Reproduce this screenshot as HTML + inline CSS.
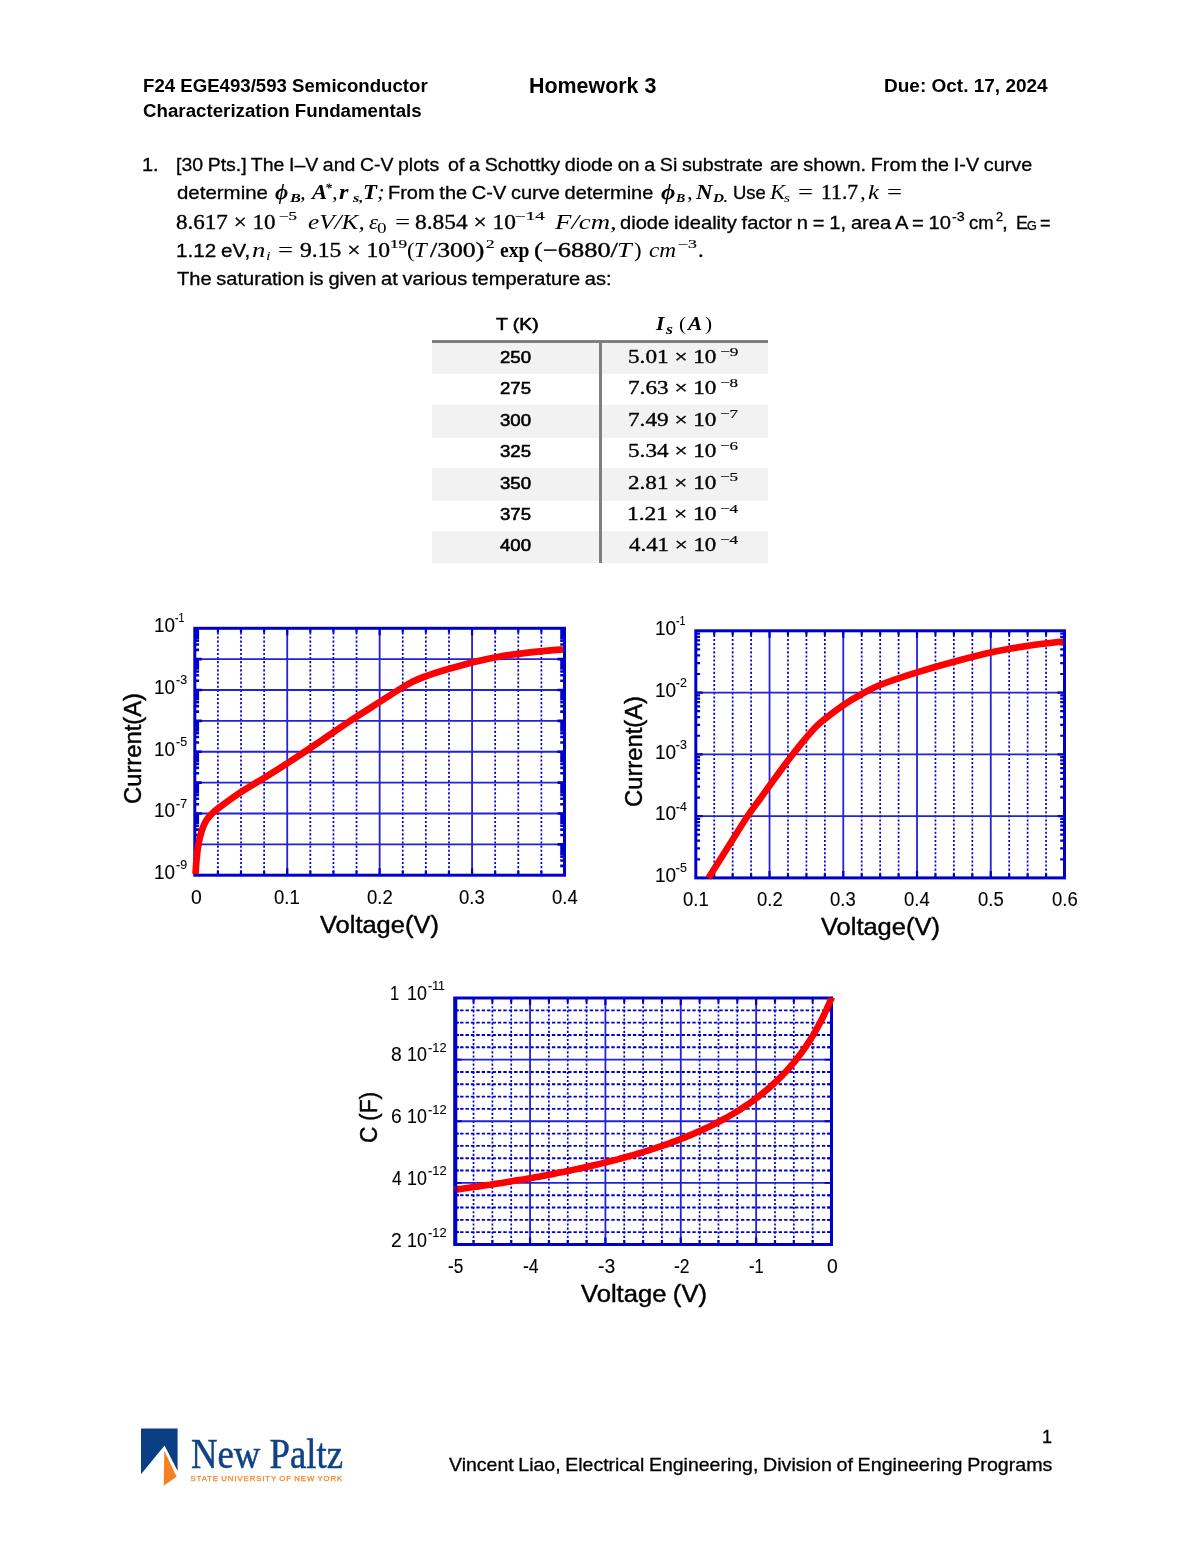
<!DOCTYPE html>
<html lang="en">
<head>
<meta charset="utf-8">
<title>Homework 3</title>
<style>
html,body{margin:0;padding:0;background:#fff;}
body{width:1200px;height:1553px;position:relative;overflow:hidden;font-family:"Liberation Sans",sans-serif;color:#000;}
.page{position:absolute;left:0;top:0;width:1200px;height:1553px;background:#fff;overflow:hidden;}
.t{position:absolute;white-space:pre;line-height:1;transform-origin:0 0;color:#000;}
.S{font-family:"Liberation Sans",sans-serif;font-weight:400;-webkit-text-stroke:0.3px #000;word-spacing:-0.7px;}
.SS{font-family:"Liberation Sans",sans-serif;font-weight:400;-webkit-text-stroke:0.6px #000;}
.SB{font-family:"Liberation Sans",sans-serif;font-weight:700;}
.M{font-family:"Liberation Serif",serif;font-weight:400;}
.MS{font-family:"Liberation Serif",serif;font-weight:400;-webkit-text-stroke:0.35px #000;}
.MB{font-family:"Liberation Serif",serif;font-weight:700;}
.MI{font-family:"Liberation Serif",serif;font-weight:400;font-style:italic;}
.MBI{font-family:"Liberation Serif",serif;font-weight:700;font-style:italic;}
.ls{letter-spacing:0.9px;-webkit-text-stroke:0.25px #f58220;}
.st2{-webkit-text-stroke:0.2px #000;}
.cl{-webkit-text-stroke:0.1px #000;}
.ct{-webkit-text-stroke:0.45px #000;}
.np{-webkit-text-stroke:0.5px #0f4287;}
.box{position:absolute;}
svg{position:absolute;left:0;top:0;}
svg text{font-family:"Liberation Sans",sans-serif;fill:#000;}
</style>
</head>
<body>
<div class="page">
<!-- table backgrounds and rules -->
<div class="box" style="left:432px;top:343px;width:336px;height:30.7px;background:#f2f2f2"></div>
<div class="box" style="left:432px;top:405px;width:336px;height:32.5px;background:#f2f2f2"></div>
<div class="box" style="left:432px;top:467.6px;width:336px;height:33.1px;background:#f2f2f2"></div>
<div class="box" style="left:432px;top:530.8px;width:336px;height:32.2px;background:#f2f2f2"></div>
<div class="box" style="left:432px;top:340.4px;width:336px;height:2.7px;background:#7f7f7f"></div>
<div class="box" style="left:599px;top:342px;width:2.5px;height:221px;background:#7f7f7f"></div>
<svg width="1200" height="1553" viewBox="0 0 1200 1553">
<g fill="none" stroke="#0000cd">
<path d="M217.91,628.3V875.2M241.01,628.3V875.2M264.12,628.3V875.2M310.33,628.3V875.2M333.44,628.3V875.2M356.54,628.3V875.2M402.76,628.3V875.2M425.86,628.3V875.2M448.97,628.3V875.2M495.18,628.3V875.2M518.29,628.3V875.2M541.39,628.3V875.2" stroke-width="1.7" stroke-dasharray="2.1 2.0"/>
<path d="M287.23,628.3V875.2M379.65,628.3V875.2M472.07,628.3V875.2M194.8,659.16H564.5M194.8,690.02H564.5M194.8,720.89H564.5M194.8,751.75H564.5M194.8,782.61H564.5M194.8,813.48H564.5M194.8,844.34H564.5" stroke-width="1.8" stroke="#2222d6"/>
<path d="M217.91,628.3v4.5M217.91,875.2v-4.5M241.01,628.3v4.5M241.01,875.2v-4.5M264.12,628.3v4.5M264.12,875.2v-4.5M310.33,628.3v4.5M310.33,875.2v-4.5M333.44,628.3v4.5M333.44,875.2v-4.5M356.54,628.3v4.5M356.54,875.2v-4.5M402.76,628.3v4.5M402.76,875.2v-4.5M425.86,628.3v4.5M425.86,875.2v-4.5M448.97,628.3v4.5M448.97,875.2v-4.5M495.18,628.3v4.5M495.18,875.2v-4.5M518.29,628.3v4.5M518.29,875.2v-4.5M541.39,628.3v4.5M541.39,875.2v-4.5M287.23,628.3v7M287.23,875.2v-7M379.65,628.3v7M379.65,875.2v-7M472.07,628.3v7M472.07,875.2v-7" stroke-width="2.2"/>
<path d="M194.8,649.87h4.3M564.5,649.87h-4.3M194.8,644.44h4.3M564.5,644.44h-4.3M194.8,640.58h4.3M564.5,640.58h-4.3M194.8,637.59h4.3M564.5,637.59h-4.3M194.8,635.15h4.3M564.5,635.15h-4.3M194.8,633.08h4.3M564.5,633.08h-4.3M194.8,631.29h4.3M564.5,631.29h-4.3M194.8,629.71h4.3M564.5,629.71h-4.3M194.8,680.73h4.3M564.5,680.73h-4.3M194.8,675.30h4.3M564.5,675.30h-4.3M194.8,671.44h4.3M564.5,671.44h-4.3M194.8,668.45h4.3M564.5,668.45h-4.3M194.8,666.01h4.3M564.5,666.01h-4.3M194.8,663.94h4.3M564.5,663.94h-4.3M194.8,662.15h4.3M564.5,662.15h-4.3M194.8,660.57h4.3M564.5,660.57h-4.3M194.8,711.60h4.3M564.5,711.60h-4.3M194.8,706.16h4.3M564.5,706.16h-4.3M194.8,702.31h4.3M564.5,702.31h-4.3M194.8,699.32h4.3M564.5,699.32h-4.3M194.8,696.87h4.3M564.5,696.87h-4.3M194.8,694.81h4.3M564.5,694.81h-4.3M194.8,693.02h4.3M564.5,693.02h-4.3M194.8,691.44h4.3M564.5,691.44h-4.3M194.8,742.46h4.3M564.5,742.46h-4.3M194.8,737.02h4.3M564.5,737.02h-4.3M194.8,733.17h4.3M564.5,733.17h-4.3M194.8,730.18h4.3M564.5,730.18h-4.3M194.8,727.73h4.3M564.5,727.73h-4.3M194.8,725.67h4.3M564.5,725.67h-4.3M194.8,723.88h4.3M564.5,723.88h-4.3M194.8,722.30h4.3M564.5,722.30h-4.3M194.8,773.32h4.3M564.5,773.32h-4.3M194.8,767.89h4.3M564.5,767.89h-4.3M194.8,764.03h4.3M564.5,764.03h-4.3M194.8,761.04h4.3M564.5,761.04h-4.3M194.8,758.60h4.3M564.5,758.60h-4.3M194.8,756.53h4.3M564.5,756.53h-4.3M194.8,754.74h4.3M564.5,754.74h-4.3M194.8,753.16h4.3M564.5,753.16h-4.3M194.8,804.18h4.3M564.5,804.18h-4.3M194.8,798.75h4.3M564.5,798.75h-4.3M194.8,794.89h4.3M564.5,794.89h-4.3M194.8,791.90h4.3M564.5,791.90h-4.3M194.8,789.46h4.3M564.5,789.46h-4.3M194.8,787.39h4.3M564.5,787.39h-4.3M194.8,785.60h4.3M564.5,785.60h-4.3M194.8,784.02h4.3M564.5,784.02h-4.3M194.8,835.05h4.3M564.5,835.05h-4.3M194.8,829.61h4.3M564.5,829.61h-4.3M194.8,825.76h4.3M564.5,825.76h-4.3M194.8,822.77h4.3M564.5,822.77h-4.3M194.8,820.32h4.3M564.5,820.32h-4.3M194.8,818.26h4.3M564.5,818.26h-4.3M194.8,816.47h4.3M564.5,816.47h-4.3M194.8,814.89h4.3M564.5,814.89h-4.3M194.8,865.91h4.3M564.5,865.91h-4.3M194.8,860.47h4.3M564.5,860.47h-4.3M194.8,856.62h4.3M564.5,856.62h-4.3M194.8,853.63h4.3M564.5,853.63h-4.3M194.8,851.18h4.3M564.5,851.18h-4.3M194.8,849.12h4.3M564.5,849.12h-4.3M194.8,847.33h4.3M564.5,847.33h-4.3M194.8,845.75h4.3M564.5,845.75h-4.3M194.8,659.16h7M564.5,659.16h-7M194.8,690.02h7M564.5,690.02h-7M194.8,720.89h7M564.5,720.89h-7M194.8,751.75h7M564.5,751.75h-7M194.8,782.61h7M564.5,782.61h-7M194.8,813.48h7M564.5,813.48h-7M194.8,844.34h7M564.5,844.34h-7" stroke-width="2.6"/>
<rect x="194.8" y="628.3" width="369.70" height="246.90" stroke-width="3.0"/>
</g>
<path d="M195.5,874.0C195.7,871.7 196.0,865.0 196.5,860.0C197.0,855.0 197.6,849.0 198.5,844.0C199.4,839.0 200.7,834.0 202.0,830.0C203.3,826.0 204.8,822.7 206.5,820.0C208.2,817.3 210.1,815.5 212.0,813.6C213.9,811.7 213.2,812.1 218.0,808.5C222.8,804.9 233.3,797.1 241.0,792.0C248.7,786.9 256.3,782.8 264.0,778.0C271.7,773.2 277.7,769.6 287.0,763.5C296.3,757.4 309.5,748.6 320.0,741.5C330.5,734.4 340.1,727.6 350.0,721.0C359.9,714.4 371.3,707.3 379.6,702.0C387.9,696.7 394.6,692.3 400.0,689.0C405.4,685.7 407.8,684.1 412.0,682.0C416.2,679.9 420.3,678.2 425.0,676.5C429.7,674.8 432.2,673.8 440.0,671.5C447.8,669.2 462.0,665.0 472.0,662.5C482.0,660.0 490.3,658.2 500.0,656.5C509.7,654.8 519.5,653.5 530.0,652.3C540.5,651.1 557.5,649.8 563.0,649.3" fill="none" stroke="#ff0000" stroke-width="6.7" stroke-linejoin="round" stroke-linecap="butt"/>
<g fill="none" stroke="#0000cd">
<path d="M714.23,630.8V877.9M732.67,630.8V877.9M751.11,630.8V877.9M787.97,630.8V877.9M806.41,630.8V877.9M824.85,630.8V877.9M861.71,630.8V877.9M880.15,630.8V877.9M898.59,630.8V877.9M935.45,630.8V877.9M953.89,630.8V877.9M972.33,630.8V877.9M1009.19,630.8V877.9M1027.63,630.8V877.9M1046.07,630.8V877.9" stroke-width="1.7" stroke-dasharray="2.1 2.0"/>
<path d="M769.54,630.8V877.9M843.28,630.8V877.9M917.02,630.8V877.9M990.76,630.8V877.9M695.8,692.57H1064.5M695.8,754.35H1064.5M695.8,816.12H1064.5" stroke-width="1.8" stroke="#2222d6"/>
<path d="M714.23,630.8v4.5M714.23,877.9v-4.5M732.67,630.8v4.5M732.67,877.9v-4.5M751.11,630.8v4.5M751.11,877.9v-4.5M787.97,630.8v4.5M787.97,877.9v-4.5M806.41,630.8v4.5M806.41,877.9v-4.5M824.85,630.8v4.5M824.85,877.9v-4.5M861.71,630.8v4.5M861.71,877.9v-4.5M880.15,630.8v4.5M880.15,877.9v-4.5M898.59,630.8v4.5M898.59,877.9v-4.5M935.45,630.8v4.5M935.45,877.9v-4.5M953.89,630.8v4.5M953.89,877.9v-4.5M972.33,630.8v4.5M972.33,877.9v-4.5M1009.19,630.8v4.5M1009.19,877.9v-4.5M1027.63,630.8v4.5M1027.63,877.9v-4.5M1046.07,630.8v4.5M1046.07,877.9v-4.5M769.54,630.8v7M769.54,877.9v-7M843.28,630.8v7M843.28,877.9v-7M917.02,630.8v7M917.02,877.9v-7M990.76,630.8v7M990.76,877.9v-7" stroke-width="2.2"/>
<path d="M695.8,673.98h4.3M1064.5,673.98h-4.3M695.8,663.10h4.3M1064.5,663.10h-4.3M695.8,655.38h4.3M1064.5,655.38h-4.3M695.8,649.40h4.3M1064.5,649.40h-4.3M695.8,644.50h4.3M1064.5,644.50h-4.3M695.8,640.37h4.3M1064.5,640.37h-4.3M695.8,636.79h4.3M1064.5,636.79h-4.3M695.8,633.63h4.3M1064.5,633.63h-4.3M695.8,735.75h4.3M1064.5,735.75h-4.3M695.8,724.88h4.3M1064.5,724.88h-4.3M695.8,717.16h4.3M1064.5,717.16h-4.3M695.8,711.17h4.3M1064.5,711.17h-4.3M695.8,706.28h4.3M1064.5,706.28h-4.3M695.8,702.14h4.3M1064.5,702.14h-4.3M695.8,698.56h4.3M1064.5,698.56h-4.3M695.8,695.40h4.3M1064.5,695.40h-4.3M695.8,797.53h4.3M1064.5,797.53h-4.3M695.8,786.65h4.3M1064.5,786.65h-4.3M695.8,778.93h4.3M1064.5,778.93h-4.3M695.8,772.95h4.3M1064.5,772.95h-4.3M695.8,768.05h4.3M1064.5,768.05h-4.3M695.8,763.92h4.3M1064.5,763.92h-4.3M695.8,760.34h4.3M1064.5,760.34h-4.3M695.8,757.18h4.3M1064.5,757.18h-4.3M695.8,859.30h4.3M1064.5,859.30h-4.3M695.8,848.43h4.3M1064.5,848.43h-4.3M695.8,840.71h4.3M1064.5,840.71h-4.3M695.8,834.72h4.3M1064.5,834.72h-4.3M695.8,829.83h4.3M1064.5,829.83h-4.3M695.8,825.69h4.3M1064.5,825.69h-4.3M695.8,822.11h4.3M1064.5,822.11h-4.3M695.8,818.95h4.3M1064.5,818.95h-4.3M695.8,692.57h7M1064.5,692.57h-7M695.8,754.35h7M1064.5,754.35h-7M695.8,816.12h7M1064.5,816.12h-7" stroke-width="2.2"/>
<rect x="695.8" y="630.8" width="368.70" height="247.10" stroke-width="3.0"/>
</g>
<path d="M708.5,878.0C711.8,872.8 721.6,857.2 728.0,847.0C734.4,836.8 741.7,825.0 747.0,817.0C752.3,809.0 756.2,804.3 760.0,799.0C763.8,793.7 766.5,789.8 770.0,785.0C773.5,780.2 777.2,775.2 781.0,770.0C784.8,764.8 788.8,759.3 793.0,754.0C797.2,748.7 801.5,743.2 806.0,738.0C810.5,732.8 813.7,728.5 820.0,723.0C826.3,717.5 836.9,709.7 843.6,705.0C850.3,700.3 853.9,698.3 860.0,695.0C866.1,691.7 870.5,688.8 880.0,685.0C889.5,681.2 904.8,676.2 917.0,672.4C929.2,668.6 940.7,665.3 953.0,662.0C965.3,658.7 977.8,655.1 990.6,652.4C1003.4,649.6 1017.9,647.3 1030.0,645.5C1042.1,643.7 1057.5,642.1 1063.0,641.4" fill="none" stroke="#ff0000" stroke-width="6.6" stroke-linejoin="round" stroke-linecap="butt"/>
<g fill="none" stroke="#0000cd">
<path d="M473.54,998.0V1244.5M492.38,998.0V1244.5M511.22,998.0V1244.5M548.90,998.0V1244.5M567.74,998.0V1244.5M586.58,998.0V1244.5M624.26,998.0V1244.5M643.10,998.0V1244.5M661.94,998.0V1244.5M699.62,998.0V1244.5M718.46,998.0V1244.5M737.30,998.0V1244.5M774.98,998.0V1244.5M793.82,998.0V1244.5M812.66,998.0V1244.5" stroke-width="1.7" stroke-dasharray="2.1 2.0"/>
<path d="M454.7,1010.33H831.5M454.7,1022.65H831.5M454.7,1034.97H831.5M454.7,1047.30H831.5M454.7,1071.95H831.5M454.7,1084.28H831.5M454.7,1096.60H831.5M454.7,1108.92H831.5M454.7,1133.58H831.5M454.7,1145.90H831.5M454.7,1158.22H831.5M454.7,1170.55H831.5M454.7,1195.20H831.5M454.7,1207.53H831.5M454.7,1219.85H831.5M454.7,1232.17H831.5" stroke-width="1.9" stroke-dasharray="3.4 2.0"/>
<path d="M530.06,998.0V1244.5M605.42,998.0V1244.5M680.78,998.0V1244.5M756.14,998.0V1244.5M454.7,1059.62H831.5M454.7,1121.25H831.5M454.7,1182.88H831.5" stroke-width="1.8" stroke="#2222d6"/>
<path d="M473.54,998.0v4.5M473.54,1244.5v-4.5M492.38,998.0v4.5M492.38,1244.5v-4.5M511.22,998.0v4.5M511.22,1244.5v-4.5M548.90,998.0v4.5M548.90,1244.5v-4.5M567.74,998.0v4.5M567.74,1244.5v-4.5M586.58,998.0v4.5M586.58,1244.5v-4.5M624.26,998.0v4.5M624.26,1244.5v-4.5M643.10,998.0v4.5M643.10,1244.5v-4.5M661.94,998.0v4.5M661.94,1244.5v-4.5M699.62,998.0v4.5M699.62,1244.5v-4.5M718.46,998.0v4.5M718.46,1244.5v-4.5M737.30,998.0v4.5M737.30,1244.5v-4.5M774.98,998.0v4.5M774.98,1244.5v-4.5M793.82,998.0v4.5M793.82,1244.5v-4.5M812.66,998.0v4.5M812.66,1244.5v-4.5M530.06,998.0v7M530.06,1244.5v-7M605.42,998.0v7M605.42,1244.5v-7M680.78,998.0v7M680.78,1244.5v-7M756.14,998.0v7M756.14,1244.5v-7" stroke-width="2.2"/>
<path d="M454.7,1010.33h4.3M831.5,1010.33h-4.3M454.7,1022.65h4.3M831.5,1022.65h-4.3M454.7,1034.97h4.3M831.5,1034.97h-4.3M454.7,1047.30h4.3M831.5,1047.30h-4.3M454.7,1071.95h4.3M831.5,1071.95h-4.3M454.7,1084.28h4.3M831.5,1084.28h-4.3M454.7,1096.60h4.3M831.5,1096.60h-4.3M454.7,1108.92h4.3M831.5,1108.92h-4.3M454.7,1133.58h4.3M831.5,1133.58h-4.3M454.7,1145.90h4.3M831.5,1145.90h-4.3M454.7,1158.22h4.3M831.5,1158.22h-4.3M454.7,1170.55h4.3M831.5,1170.55h-4.3M454.7,1195.20h4.3M831.5,1195.20h-4.3M454.7,1207.53h4.3M831.5,1207.53h-4.3M454.7,1219.85h4.3M831.5,1219.85h-4.3M454.7,1232.17h4.3M831.5,1232.17h-4.3M454.7,1059.62h7M831.5,1059.62h-7M454.7,1121.25h7M831.5,1121.25h-7M454.7,1182.88h7M831.5,1182.88h-7" stroke-width="1.9"/>
<rect x="454.7" y="998.0" width="376.80" height="246.50" stroke-width="3.0"/>
</g>
<path d="M454.7,1189.7C455.7,1189.5 458.7,1189.1 460.7,1188.9C462.7,1188.6 464.7,1188.3 466.7,1188.0C468.7,1187.8 470.6,1187.5 472.6,1187.2C474.6,1186.9 476.6,1186.7 478.5,1186.4C480.5,1186.1 482.4,1185.8 484.4,1185.5C486.3,1185.2 488.3,1184.9 490.2,1184.7C492.2,1184.4 494.1,1184.1 496.0,1183.8C497.9,1183.5 499.8,1183.2 501.8,1182.9C503.7,1182.6 505.6,1182.3 507.5,1182.0C509.4,1181.7 511.3,1181.4 513.2,1181.1C515.0,1180.7 516.9,1180.4 518.8,1180.1C520.7,1179.8 522.5,1179.5 524.4,1179.2C526.3,1178.8 528.1,1178.5 530.0,1178.2C531.8,1177.9 533.7,1177.5 535.5,1177.2C537.3,1176.9 539.2,1176.6 541.0,1176.2C542.8,1175.9 544.6,1175.5 546.4,1175.2C548.2,1174.9 550.0,1174.5 551.8,1174.2C553.6,1173.8 555.4,1173.5 557.2,1173.1C559.0,1172.8 560.8,1172.4 562.5,1172.1C564.3,1171.7 566.1,1171.3 567.8,1171.0C569.6,1170.6 571.3,1170.3 573.1,1169.9C574.8,1169.5 576.6,1169.1 578.3,1168.8C580.0,1168.4 581.8,1168.0 583.5,1167.6C585.2,1167.2 586.9,1166.9 588.6,1166.5C590.3,1166.1 592.0,1165.7 593.7,1165.3C595.4,1164.9 597.1,1164.5 598.8,1164.1C600.4,1163.7 602.1,1163.3 603.8,1162.9C605.4,1162.5 607.1,1162.0 608.7,1161.6C610.4,1161.2 612.0,1160.8 613.7,1160.4C615.3,1159.9 616.9,1159.5 618.6,1159.1C620.2,1158.6 621.8,1158.2 623.4,1157.8C625.0,1157.3 626.6,1156.9 628.2,1156.4C629.8,1156.0 631.4,1155.5 633.0,1155.1C634.5,1154.6 636.1,1154.2 637.7,1153.7C639.3,1153.2 640.8,1152.8 642.4,1152.3C643.9,1151.8 645.5,1151.3 647.0,1150.9C648.5,1150.4 650.1,1149.9 651.6,1149.4C653.1,1148.9 654.6,1148.4 656.1,1147.9C657.6,1147.4 659.1,1146.9 660.6,1146.4C662.1,1145.9 663.6,1145.4 665.1,1144.8C666.6,1144.3 668.1,1143.8 669.5,1143.3C671.0,1142.7 672.4,1142.2 673.9,1141.7C675.3,1141.1 676.8,1140.6 678.2,1140.0C679.6,1139.5 681.1,1138.9 682.5,1138.3C683.9,1137.8 685.3,1137.2 686.7,1136.6C688.1,1136.1 689.5,1135.5 690.9,1134.9C692.3,1134.3 693.7,1133.7 695.1,1133.1C696.4,1132.5 697.8,1131.9 699.2,1131.3C700.5,1130.7 701.9,1130.1 703.2,1129.5C704.5,1128.9 705.9,1128.2 707.2,1127.6C708.5,1127.0 709.8,1126.3 711.2,1125.7C712.5,1125.0 713.8,1124.4 715.1,1123.7C716.4,1123.1 717.6,1122.4 718.9,1121.7C720.2,1121.1 721.5,1120.4 722.7,1119.7C724.0,1119.0 725.2,1118.3 726.5,1117.6C727.7,1116.9 729.0,1116.2 730.2,1115.5C731.4,1114.8 732.6,1114.1 733.9,1113.4C735.1,1112.6 736.3,1111.9 737.5,1111.1C738.7,1110.4 739.8,1109.7 741.0,1108.9C742.2,1108.1 743.4,1107.4 744.5,1106.6C745.7,1105.8 746.8,1105.1 748.0,1104.3C749.1,1103.5 750.3,1102.7 751.4,1101.9C752.5,1101.1 753.6,1100.3 754.7,1099.4C755.8,1098.6 756.9,1097.8 758.0,1097.0C759.1,1096.1 760.2,1095.3 761.3,1094.4C762.3,1093.6 763.4,1092.7 764.4,1091.9C765.5,1091.0 766.5,1090.1 767.6,1089.2C768.6,1088.3 769.6,1087.4 770.6,1086.5C771.7,1085.6 772.7,1084.7 773.7,1083.8C774.6,1082.9 775.6,1082.0 776.6,1081.0C777.6,1080.1 778.6,1079.2 779.5,1078.2C780.5,1077.3 781.4,1076.3 782.3,1075.4C783.3,1074.4 784.2,1073.4 785.1,1072.4C786.0,1071.5 786.9,1070.5 787.8,1069.5C788.7,1068.5 789.6,1067.5 790.5,1066.5C791.4,1065.5 792.2,1064.4 793.1,1063.4C793.9,1062.4 794.8,1061.4 795.6,1060.3C796.5,1059.3 797.3,1058.2 798.1,1057.2C798.9,1056.1 799.7,1055.1 800.5,1054.0C801.3,1053.0 802.0,1051.9 802.8,1050.8C803.6,1049.8 804.3,1048.7 805.1,1047.6C805.8,1046.6 806.5,1045.5 807.3,1044.4C808.0,1043.3 808.7,1042.2 809.4,1041.2C810.1,1040.1 810.8,1039.0 811.4,1037.9C812.1,1036.8 812.7,1035.7 813.4,1034.7C814.0,1033.6 814.7,1032.5 815.3,1031.4C815.9,1030.4 816.5,1029.3 817.1,1028.2C817.7,1027.2 818.3,1026.1 818.8,1025.1C819.4,1024.0 819.9,1023.0 820.5,1021.9C821.0,1020.9 821.5,1019.9 822.0,1018.9C822.5,1017.9 823.0,1016.9 823.5,1015.9C824.0,1015.0 824.4,1014.0 824.9,1013.1C825.3,1012.1 825.7,1011.2 826.2,1010.3C826.6,1009.5 826.9,1008.6 827.3,1007.8C827.7,1006.9 828.0,1006.1 828.4,1005.4C828.7,1004.6 829.0,1003.9 829.3,1003.2C829.6,1002.5 829.9,1001.9 830.1,1001.3C830.4,1000.7 830.6,1000.2 830.8,999.8C831.0,999.3 831.1,998.9 831.3,998.6C831.4,998.3 831.5,998.1 831.5,998.0" fill="none" stroke="#ff0000" stroke-width="6.6" stroke-linejoin="round" stroke-linecap="butt"/>
<path d="M456.3,998.0V1244.5" stroke="#0000cd" stroke-width="2" fill="none"/>
<path d="M141,1428.6H177.6V1471L164.6,1445.6L141,1474.2Z" fill="#0a3f86"/>
<path d="M164.3,1450.5L176.6,1476.8L163.7,1485.8Z" fill="#f58220"/>
</svg>
<span class="t SB" style="left:142.60px;top:77.25px;font-size:18.3px;transform:scaleX(1.0187)">F24 EGE493/593 Semiconductor</span>
<span class="t SB" style="left:142.80px;top:102.25px;font-size:18.3px;transform:scaleX(1.0237)">Characterization Fundamentals</span>
<span class="t SB" style="left:528.65px;top:75.25px;font-size:21.2px;transform:scaleX(1.0105)">Homework 3</span>
<span class="t SB" style="left:883.65px;top:77.25px;font-size:18.3px;transform:scaleX(1.0391)">Due: Oct. 17, 2024</span>
<span class="t S" style="left:141.60px;top:157.25px;font-size:17.8px;transform:scaleX(1.1237)">1.</span>
<span class="t S" style="left:176.40px;top:157.25px;font-size:17.8px;transform:scaleX(1.0937)">[30 Pts.] The I–V and C-V plots</span>
<span class="t S" style="left:447.65px;top:157.25px;font-size:17.8px;transform:scaleX(1.1060)">of a Schottky diode on a Si substrate</span>
<span class="t S" style="left:770.45px;top:157.25px;font-size:17.8px;transform:scaleX(1.1128)">are shown. From the I-V curve</span>
<span class="t S" style="left:176.70px;top:185.25px;font-size:17.8px;transform:scaleX(1.1497)">determine</span>
<span class="t MBI" style="left:275.00px;top:182.25px;font-size:21.0px;transform:scaleX(1.0856)">ϕ</span>
<span class="t MBI" style="left:289.50px;top:192.25px;font-size:12.8px;transform:scaleX(1.2744)">B</span>
<span class="t MI" style="left:299.90px;top:182.25px;font-size:21.0px;transform:scaleX(1.0856)">,</span>
<span class="t MBI" style="left:311.50px;top:182.25px;font-size:21.0px;transform:scaleX(1.0856)">A</span>
<span class="t MBI" style="left:324.75px;top:182.25px;font-size:12.8px;transform:scaleX(1.0856)">*</span>
<span class="t MI" style="left:332.00px;top:182.25px;font-size:21.0px;transform:scaleX(1.0856)">,</span>
<span class="t MBI" style="left:339.30px;top:182.25px;font-size:21.0px;transform:scaleX(1.1536)">r</span>
<span class="t MBI" style="left:353.00px;top:192.25px;font-size:12.8px;transform:scaleX(1.2744)">s,</span>
<span class="t MBI" style="left:362.75px;top:182.25px;font-size:21.0px;transform:scaleX(1.0856)">T</span>
<span class="t MI" style="left:377.20px;top:182.25px;font-size:21.0px;transform:scaleX(1.0856)">;</span>
<span class="t S" style="left:388.40px;top:185.25px;font-size:17.8px;transform:scaleX(1.1226)">From the C-V curve determine</span>
<span class="t MBI" style="left:660.65px;top:182.25px;font-size:21.0px;transform:scaleX(1.1774)">ϕ</span>
<span class="t MBI" style="left:675.80px;top:192.25px;font-size:12.8px;transform:scaleX(1.0856)">B</span>
<span class="t MI" style="left:686.75px;top:182.25px;font-size:21.0px;transform:scaleX(1.0856)">,</span>
<span class="t MBI" style="left:695.60px;top:182.25px;font-size:21.0px;transform:scaleX(1.0856)">N</span>
<span class="t MBI" style="left:713.15px;top:192.25px;font-size:12.8px;transform:scaleX(1.1926)">D.</span>
<span class="t S" style="left:733.10px;top:185.25px;font-size:17.8px;transform:scaleX(1.0403)">Use</span>
<span class="t MI" style="left:769.55px;top:182.25px;font-size:21.0px;transform:scaleX(1.0856)">K</span>
<span class="t MI" style="left:784.15px;top:192.25px;font-size:12.8px;transform:scaleX(1.2107)">s</span>
<span class="t M" style="left:797.90px;top:182.25px;font-size:21.0px;transform:scaleX(1.2744)">=</span>
<span class="t MS" style="left:820.65px;top:182.25px;font-size:21.0px;transform:scaleX(1.0327)">11.7</span>
<span class="t MI" style="left:859.50px;top:182.25px;font-size:21.0px;transform:scaleX(1.0856)">,</span>
<span class="t MI" style="left:868.25px;top:182.25px;font-size:21.0px;transform:scaleX(1.1708)">k</span>
<span class="t M" style="left:887.05px;top:182.25px;font-size:21.0px;transform:scaleX(1.2744)">=</span>
<span class="t MS" style="left:176.20px;top:212.25px;font-size:21.0px;transform:scaleX(1.0979)">8.617 × 10</span>
<span class="t M st2" style="left:278.85px;top:211.25px;font-size:11.8px;transform:scaleX(1.4269)">−5</span>
<span class="t MI" style="left:308.00px;top:212.25px;font-size:21.0px;transform:scaleX(1.2000)">eV/K,</span>
<span class="t MI" style="left:369.00px;top:212.25px;font-size:21.0px;transform:scaleX(1.0856)">ε</span>
<span class="t M" style="left:377.00px;top:221.25px;font-size:15.0px;transform:scaleX(1.2744)">0</span>
<span class="t M" style="left:395.00px;top:212.25px;font-size:21.0px;transform:scaleX(1.2744)">=</span>
<span class="t MS" style="left:415.10px;top:212.25px;font-size:21.0px;transform:scaleX(1.1134)">8.854 × 10</span>
<span class="t M st2" style="left:515.45px;top:211.25px;font-size:11.8px;transform:scaleX(1.6116)">−14</span>
<span class="t MI" style="left:554.50px;top:212.25px;font-size:21.0px;transform:scaleX(1.2766)">F/cm,</span>
<span class="t S" style="left:619.65px;top:215.25px;font-size:17.8px;transform:scaleX(1.1325)">diode ideality factor n = 1, area A = 10</span>
<span class="t S" style="left:952.45px;top:211.25px;font-size:12.5px;transform:scaleX(1.1382)">-3</span>
<span class="t S" style="left:969.15px;top:215.25px;font-size:17.8px;transform:scaleX(1.0396)">cm</span>
<span class="t S" style="left:995.80px;top:211.25px;font-size:12.5px;transform:scaleX(1.0120)">2</span>
<span class="t S" style="left:1001.75px;top:215.25px;font-size:17.8px;transform:scaleX(1.1880)">,</span>
<span class="t S" style="left:1015.60px;top:215.25px;font-size:17.8px;transform:scaleX(1.0120)">E</span>
<span class="t S" style="left:1026.80px;top:220.25px;font-size:12.5px;transform:scaleX(1.0120)">G</span>
<span class="t S" style="left:1040.45px;top:215.25px;font-size:17.8px;transform:scaleX(1.0120)">=</span>
<span class="t S" style="left:176.05px;top:243.25px;font-size:17.8px;transform:scaleX(1.1597)">1.12 eV,</span>
<span class="t MI" style="left:251.85px;top:240.25px;font-size:21.0px;transform:scaleX(1.2744)">n</span>
<span class="t MI" style="left:265.50px;top:250.25px;font-size:12.8px;transform:scaleX(1.2744)">i</span>
<span class="t M" style="left:277.85px;top:240.25px;font-size:21.0px;transform:scaleX(1.2744)">=</span>
<span class="t MS" style="left:300.35px;top:240.25px;font-size:21.0px;transform:scaleX(1.1238)">9.15 × 10</span>
<span class="t M st2" style="left:390.05px;top:239.25px;font-size:11.8px;transform:scaleX(1.4580)">19</span>
<span class="t M" style="left:407.35px;top:240.25px;font-size:21.0px;transform:scaleX(1.0856)">(</span>
<span class="t MI" style="left:414.00px;top:240.25px;font-size:21.0px;transform:scaleX(1.0856)">T</span>
<span class="t MS" style="left:429.65px;top:240.25px;font-size:21.0px;transform:scaleX(1.2251)">/300)</span>
<span class="t M st2" style="left:485.75px;top:239.25px;font-size:11.8px;transform:scaleX(1.4580)">2</span>
<span class="t MB" style="left:499.70px;top:240.25px;font-size:21.0px;transform:scaleX(0.9333)">exp</span>
<span class="t MS" style="left:534.15px;top:240.25px;font-size:21.0px;transform:scaleX(1.2592)">(−6880/</span>
<span class="t MI" style="left:617.00px;top:240.25px;font-size:21.0px;transform:scaleX(1.2564)">T</span>
<span class="t M" style="left:633.85px;top:240.25px;font-size:21.0px;transform:scaleX(1.0856)">)</span>
<span class="t MI" style="left:649.40px;top:240.25px;font-size:21.0px;transform:scaleX(1.1093)">cm</span>
<span class="t M st2" style="left:678.00px;top:239.25px;font-size:11.8px;transform:scaleX(1.5120)">−3</span>
<span class="t MS" style="left:697.90px;top:240.25px;font-size:21.0px;transform:scaleX(1.0856)">.</span>
<span class="t S" style="left:176.85px;top:271.25px;font-size:17.8px;transform:scaleX(1.1273)">The saturation is given at various temperature as:</span>
<span class="t SS" style="left:495.50px;top:316.25px;font-size:17.4px;transform:scaleX(1.1108)">T (K)</span>
<span class="t MBI" style="left:656.40px;top:314.25px;font-size:19.6px;transform:scaleX(1.0856)">I</span>
<span class="t MBI" style="left:665.50px;top:323.25px;font-size:14px;transform:scaleX(1.2744)">s</span>
<span class="t M" style="left:678.50px;top:314.25px;font-size:19.6px;transform:scaleX(1.0856)">(</span>
<span class="t MBI" style="left:688.15px;top:314.25px;font-size:19.6px;transform:scaleX(1.0856)">A</span>
<span class="t M" style="left:704.50px;top:314.25px;font-size:19.6px;transform:scaleX(1.0856)">)</span>
<span class="t SS" style="left:500.30px;top:349.25px;font-size:17.4px;transform:scaleX(1.0690)">250</span>
<span class="t MS" style="left:627.90px;top:347.25px;font-size:19.6px;transform:scaleX(1.1836)">5.01 × 10</span>
<span class="t M st2" style="left:720.00px;top:345.25px;font-size:13px;transform:scaleX(1.3260)">−9</span>
<span class="t SS" style="left:500.30px;top:380.25px;font-size:17.4px;transform:scaleX(1.0690)">275</span>
<span class="t MS" style="left:627.90px;top:378.25px;font-size:19.6px;transform:scaleX(1.1836)">7.63 × 10</span>
<span class="t M st2" style="left:720.00px;top:376.25px;font-size:13px;transform:scaleX(1.3077)">−8</span>
<span class="t SS" style="left:500.30px;top:412.25px;font-size:17.4px;transform:scaleX(1.0690)">300</span>
<span class="t MS" style="left:627.90px;top:410.25px;font-size:19.6px;transform:scaleX(1.1836)">7.49 × 10</span>
<span class="t M st2" style="left:720.00px;top:407.25px;font-size:13px;transform:scaleX(1.3077)">−7</span>
<span class="t SS" style="left:500.30px;top:443.25px;font-size:17.4px;transform:scaleX(1.0690)">325</span>
<span class="t MS" style="left:627.90px;top:441.25px;font-size:19.6px;transform:scaleX(1.1836)">5.34 × 10</span>
<span class="t M st2" style="left:720.00px;top:439.25px;font-size:13px;transform:scaleX(1.3077)">−6</span>
<span class="t SS" style="left:500.30px;top:475.25px;font-size:17.4px;transform:scaleX(1.0690)">350</span>
<span class="t MS" style="left:627.90px;top:473.25px;font-size:19.6px;transform:scaleX(1.1812)">2.81 × 10</span>
<span class="t M st2" style="left:720.00px;top:470.25px;font-size:13px;transform:scaleX(1.3077)">−5</span>
<span class="t SS" style="left:500.30px;top:506.25px;font-size:17.4px;transform:scaleX(1.0690)">375</span>
<span class="t MS" style="left:626.90px;top:504.25px;font-size:19.6px;transform:scaleX(1.1973)">1.21 × 10</span>
<span class="t M st2" style="left:720.00px;top:502.25px;font-size:13px;transform:scaleX(1.3077)">−4</span>
<span class="t SS" style="left:500.30px;top:537.25px;font-size:17.4px;transform:scaleX(1.0690)">400</span>
<span class="t MS" style="left:628.90px;top:535.25px;font-size:19.6px;transform:scaleX(1.1676)">4.41 × 10</span>
<span class="t M st2" style="left:720.00px;top:533.25px;font-size:13px;transform:scaleX(1.3077)">−4</span>
<span class="t S" style="left:1041.90px;top:1429.25px;font-size:17.8px;transform:scaleX(1.0120)">1</span>
<span class="t S" style="left:448.70px;top:1457.25px;font-size:17.8px;transform:scaleX(1.0961)">Vincent Liao, Electrical Engineering,</span>
<span class="t S" style="left:763.00px;top:1457.25px;font-size:17.8px;transform:scaleX(1.1057)">Division of Engineering Programs</span>
<span class="t M np" style="left:190.75px;top:1433.25px;font-size:42.5px;transform:scaleX(0.8650);color:#0f4287">New Paltz</span>
<span class="t S ls" style="left:190.50px;top:1475.25px;font-size:7.8px;color:#f58220">STATE UNIVERSITY OF NEW YORK</span>
<span class="t S cl" style="left:154.10px;top:616.25px;font-size:19.3px;transform:scaleX(0.9803)">10</span>
<span class="t S cl" style="left:175.20px;top:612.25px;font-size:12.4px;transform:scaleX(0.8556)">-1</span>
<span class="t S cl" style="left:154.10px;top:678.25px;font-size:19.3px;transform:scaleX(0.9803)">10</span>
<span class="t S cl" style="left:175.50px;top:674.25px;font-size:12.4px;transform:scaleX(1.0044)">-3</span>
<span class="t S cl" style="left:154.10px;top:740.25px;font-size:19.3px;transform:scaleX(0.9803)">10</span>
<span class="t S cl" style="left:175.50px;top:736.25px;font-size:12.4px;transform:scaleX(1.0044)">-5</span>
<span class="t S cl" style="left:154.10px;top:801.25px;font-size:19.3px;transform:scaleX(0.9803)">10</span>
<span class="t S cl" style="left:175.50px;top:798.25px;font-size:12.4px;transform:scaleX(1.0044)">-7</span>
<span class="t S cl" style="left:154.10px;top:863.25px;font-size:19.3px;transform:scaleX(0.9803)">10</span>
<span class="t S cl" style="left:175.50px;top:859.25px;font-size:12.4px;transform:scaleX(1.0044)">-9</span>
<span class="t S cl" style="left:190.70px;top:888.25px;font-size:19.3px;transform:scaleX(1.0044)">0</span>
<span class="t S cl" style="left:273.60px;top:888.25px;font-size:19.3px;transform:scaleX(0.9600)">0.1</span>
<span class="t S cl" style="left:367.30px;top:888.25px;font-size:19.3px;transform:scaleX(0.9600)">0.2</span>
<span class="t S cl" style="left:459.40px;top:888.25px;font-size:19.3px;transform:scaleX(0.9600)">0.3</span>
<span class="t S cl" style="left:551.60px;top:888.25px;font-size:19.3px;transform:scaleX(0.9600)">0.4</span>
<span class="t S ct" style="left:320.00px;top:913.25px;font-size:24.6px;transform:scaleX(1.0351)">Voltage(V)</span>
<span class="t S ct" style="left:121.10px;top:804.45px;font-size:24.6px;transform:rotate(-90deg) scaleX(0.9673)">Current(A)</span>
<span class="t S cl" style="left:654.70px;top:619.25px;font-size:19.3px;transform:scaleX(0.9843)">10</span>
<span class="t S cl" style="left:675.50px;top:615.25px;font-size:12.4px;transform:scaleX(0.8556)">-1</span>
<span class="t S cl" style="left:654.70px;top:681.25px;font-size:19.3px;transform:scaleX(0.9843)">10</span>
<span class="t S cl" style="left:675.80px;top:677.25px;font-size:12.4px">-2</span>
<span class="t S cl" style="left:654.70px;top:743.25px;font-size:19.3px;transform:scaleX(0.9843)">10</span>
<span class="t S cl" style="left:675.80px;top:739.25px;font-size:12.4px">-3</span>
<span class="t S cl" style="left:654.70px;top:804.25px;font-size:19.3px;transform:scaleX(0.9843)">10</span>
<span class="t S cl" style="left:675.80px;top:801.25px;font-size:12.4px">-4</span>
<span class="t S cl" style="left:654.70px;top:866.25px;font-size:19.3px;transform:scaleX(0.9843)">10</span>
<span class="t S cl" style="left:675.80px;top:862.25px;font-size:12.4px">-5</span>
<span class="t S cl" style="left:682.80px;top:890.25px;font-size:19.3px;transform:scaleX(0.9600)">0.1</span>
<span class="t S cl" style="left:756.54px;top:890.25px;font-size:19.3px;transform:scaleX(0.9600)">0.2</span>
<span class="t S cl" style="left:830.28px;top:890.25px;font-size:19.3px;transform:scaleX(0.9600)">0.3</span>
<span class="t S cl" style="left:904.02px;top:890.25px;font-size:19.3px;transform:scaleX(0.9600)">0.4</span>
<span class="t S cl" style="left:977.76px;top:890.25px;font-size:19.3px;transform:scaleX(0.9600)">0.5</span>
<span class="t S cl" style="left:1051.50px;top:890.25px;font-size:19.3px;transform:scaleX(0.9600)">0.6</span>
<span class="t S ct" style="left:821.00px;top:915.25px;font-size:24.6px;transform:scaleX(1.0351)">Voltage(V)</span>
<span class="t S ct" style="left:622.00px;top:807.05px;font-size:24.6px;transform:rotate(-90deg) scaleX(0.9673)">Current(A)</span>
<span class="t S cl" style="left:390.25px;top:984.25px;font-size:19.3px;transform:scaleX(0.8556)">1</span>
<span class="t S cl" style="left:407.25px;top:984.25px;font-size:19.3px;transform:scaleX(0.9257)">10</span>
<span class="t S cl" style="left:428.00px;top:980.25px;font-size:12.4px">-11</span>
<span class="t S cl" style="left:391.00px;top:1045.25px;font-size:19.3px">8</span>
<span class="t S cl" style="left:407.25px;top:1045.25px;font-size:19.3px;transform:scaleX(0.9257)">10</span>
<span class="t S cl" style="left:428.10px;top:1042.25px;font-size:12.4px;transform:scaleX(1.0369)">-12</span>
<span class="t S cl" style="left:391.00px;top:1107.25px;font-size:19.3px">6</span>
<span class="t S cl" style="left:407.25px;top:1107.25px;font-size:19.3px;transform:scaleX(0.9257)">10</span>
<span class="t S cl" style="left:428.10px;top:1104.25px;font-size:12.4px;transform:scaleX(1.0369)">-12</span>
<span class="t S cl" style="left:392.00px;top:1169.25px;font-size:19.3px;transform:scaleX(0.9000)">4</span>
<span class="t S cl" style="left:407.25px;top:1169.25px;font-size:19.3px;transform:scaleX(0.9257)">10</span>
<span class="t S cl" style="left:428.10px;top:1165.25px;font-size:12.4px;transform:scaleX(1.0369)">-12</span>
<span class="t S cl" style="left:391.00px;top:1231.25px;font-size:19.3px">2</span>
<span class="t S cl" style="left:407.25px;top:1231.25px;font-size:19.3px;transform:scaleX(0.9257)">10</span>
<span class="t S cl" style="left:428.10px;top:1227.25px;font-size:12.4px;transform:scaleX(1.0369)">-12</span>
<span class="t S cl" style="left:448.25px;top:1257.25px;font-size:19.3px;transform:scaleX(0.8939)">-5</span>
<span class="t S cl" style="left:522.90px;top:1257.25px;font-size:19.3px;transform:scaleX(0.9130)">-4</span>
<span class="t S cl" style="left:597.95px;top:1257.25px;font-size:19.3px;transform:scaleX(1.0044)">-3</span>
<span class="t S cl" style="left:674.10px;top:1257.25px;font-size:19.3px;transform:scaleX(0.9090)">-2</span>
<span class="t S cl" style="left:749.00px;top:1257.25px;font-size:19.3px;transform:scaleX(0.8556)">-1</span>
<span class="t S cl" style="left:827.40px;top:1257.25px;font-size:19.3px;transform:scaleX(1.0044)">0</span>
<span class="t S ct" style="left:580.80px;top:1282.25px;font-size:24.6px;transform:scaleX(1.0417)">Voltage (V)</span>
<span class="t S ct" style="left:357.00px;top:1142.50px;font-size:24.6px;transform:rotate(-90deg) scaleX(0.9245)">C (F)</span>
</div>
</body>
</html>
